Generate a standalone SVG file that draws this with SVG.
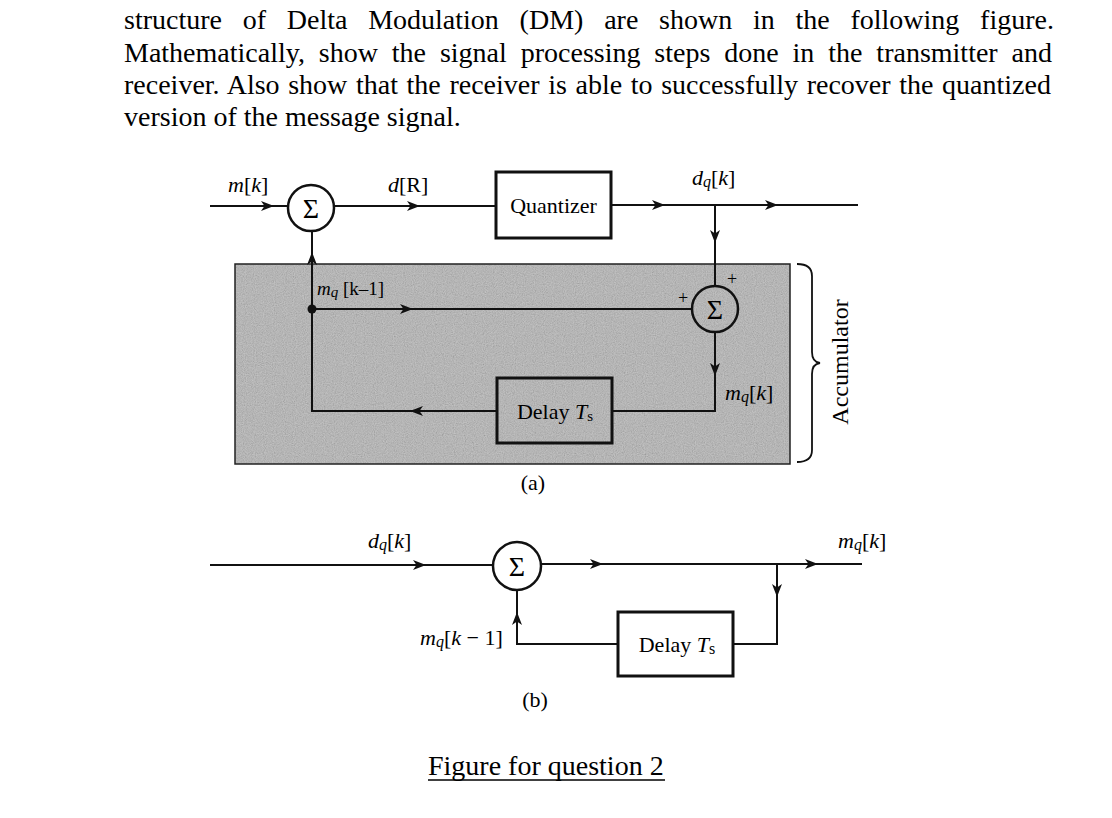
<svg xmlns="http://www.w3.org/2000/svg" xmlns:xlink="http://www.w3.org/1999/xlink" width="1112" height="818" viewBox="0 0 1112 818">
<style>
  .t{font-family:"Liberation Serif","Times New Roman",serif;fill:#000}
  .body{font-size:28px}
  .lbl{font-size:22px}
  .sig{font-size:28px}
  .i{font-style:italic}
  .ln{stroke:#111;stroke-width:2;fill:none}
  .box{fill:#fff;stroke:#111;stroke-width:3}
  .boxg{fill:none;stroke:#111;stroke-width:3}
  .sum{fill:#fff;stroke:#111;stroke-width:2.5}
  .sumg{fill:none;stroke:#111;stroke-width:2.5}
</style>
<defs>
  <path id="ah" d="M0,0 L-13,-5 L-9.5,0 L-13,5 Z" fill="#111"/>
  <filter id="grain" x="0" y="0" width="1" height="1">
    <feTurbulence type="fractalNoise" baseFrequency="0.9" numOctaves="2" seed="7"/>
    <feColorMatrix type="saturate" values="0"/>
    <feComponentTransfer><feFuncA type="table" tableValues="1 1"/></feComponentTransfer>
  </filter>
</defs>
<rect width="1112" height="818" fill="#fff"/>

<g id="question-text" class="t body">
  <text x="124" y="28.5" word-spacing="13.76">structure of Delta Modulation (DM) are shown in the following figure.</text>
  <text x="124" y="61.5" word-spacing="6.9">Mathematically, show the signal processing steps done in the transmitter and</text>
  <text x="124" y="94" word-spacing="1.63">receiver. Also show that the receiver is able to successfully recover the quantized</text>
  <text x="124" y="126">version of the message signal.</text>
</g>

<g id="accumulator">
  <rect x="235" y="264" width="555" height="200" fill="#b2b2b2"/>
  <rect x="235" y="264" width="555" height="200" filter="url(#grain)" opacity="0.35"/>
  <rect x="235" y="264" width="555" height="200" fill="none" stroke="#222" stroke-width="1.5"/>
  <path d="M797,264 Q812,264 812,276 L812,352 Q812,362 820,363 Q812,364 812,374 L812,450 Q812,462 797,462" fill="none" stroke="#111" stroke-width="1.8"/>
  <text class="t" font-size="24" transform="translate(848,362) rotate(-90)" text-anchor="middle">Accumulator</text>
</g>

<g id="connectors">
  <!-- (a) -->
  <path class="ln" d="M210,206 H288"/>
  <path class="ln" d="M334,206 H496"/>
  <path class="ln" d="M611,205 H858"/>
  <path class="ln" d="M715,205 V285"/>
  <path class="ln" d="M312,309 H692"/>
  <path class="ln" d="M715,332 V411 H612"/>
  <path class="ln" d="M497,411 H312 V231"/>
  <circle cx="312" cy="309" r="4.5" fill="#111"/>
  <use xlink:href="#ah" transform="translate(274,206)"/>
  <use xlink:href="#ah" transform="translate(420,206)"/>
  <use xlink:href="#ah" transform="translate(665,205)"/>
  <use xlink:href="#ah" transform="translate(778,205)"/>
  <use xlink:href="#ah" transform="translate(715,243) rotate(90)"/>
  <use xlink:href="#ah" transform="translate(413,309)"/>
  <use xlink:href="#ah" transform="translate(715,376) rotate(90)"/>
  <use xlink:href="#ah" transform="translate(410,411) rotate(180)"/>
  <use xlink:href="#ah" transform="translate(312,252) rotate(-90)"/>
  <!-- (b) -->
  <path class="ln" d="M210,565 H493"/>
  <path class="ln" d="M541,564 H862"/>
  <path class="ln" d="M777,564 V644 H733"/>
  <path class="ln" d="M618,644 H517 V590"/>
  <use xlink:href="#ah" transform="translate(426,565)"/>
  <use xlink:href="#ah" transform="translate(603,564)"/>
  <use xlink:href="#ah" transform="translate(818,564)"/>
  <use xlink:href="#ah" transform="translate(777,597) rotate(90)"/>
  <use xlink:href="#ah" transform="translate(517,612) rotate(-90)"/>
</g>

<g id="sum1">
  <circle class="sum" cx="311" cy="208" r="23"/>
  <text class="t sig" x="311" y="217.5" text-anchor="middle">Σ</text>
</g>
<g id="quantizer">
  <rect class="box" x="496" y="172" width="115" height="66"/>
  <text class="t lbl" x="553.5" y="213" text-anchor="middle" font-size="23">Quantizer</text>
</g>
<g id="sum2">
  <circle class="sumg" cx="715" cy="309" r="23"/>
  <text class="t sig" x="715" y="318.5" text-anchor="middle">Σ</text>
  <text class="t" x="732" y="285" font-size="18" text-anchor="middle">+</text>
  <text class="t" x="683" y="304" font-size="18" text-anchor="middle">+</text>
</g>
<g id="delay-a">
  <rect class="boxg" x="497" y="378" width="115" height="65"/>
  <text class="t lbl" x="555" y="419" text-anchor="middle">Delay <tspan class="i">T</tspan><tspan font-size="15" dy="2">s</tspan></text>
</g>

<g id="labels-a" class="t lbl">
  <text x="228" y="192"><tspan class="i">m</tspan>[<tspan class="i">k</tspan>]</text>
  <text x="388" y="192"><tspan class="i">d</tspan>[R]</text>
  <text x="692" y="185"><tspan class="i">d</tspan><tspan class="i" font-size="16" dy="2">q</tspan><tspan dy="-2">[</tspan><tspan class="i">k</tspan>]</text>
  <text x="317" y="295" font-size="19"><tspan class="i">m</tspan><tspan class="i" font-size="15" dy="2">q</tspan><tspan dy="-2"> [k–1]</tspan></text>
  <text x="725" y="400"><tspan class="i">m</tspan><tspan class="i" font-size="16" dy="2">q</tspan><tspan dy="-2">[</tspan><tspan class="i">k</tspan>]</text>
  <text x="533" y="490" text-anchor="middle">(a)</text>
</g>

<g id="sum3">
  <circle class="sum" cx="517" cy="566" r="24"/>
  <text class="t sig" x="517" y="575.5" text-anchor="middle">Σ</text>
</g>
<g id="delay-b">
  <rect class="box" x="618" y="612" width="115" height="64"/>
  <text class="t lbl" x="677" y="652" text-anchor="middle">Delay <tspan class="i">T</tspan><tspan font-size="16" dy="2">s</tspan></text>
</g>
<g id="labels-b" class="t lbl">
  <text x="368" y="548"><tspan class="i">d</tspan><tspan class="i" font-size="16" dy="2">q</tspan><tspan dy="-2">[</tspan><tspan class="i">k</tspan>]</text>
  <text x="838" y="548"><tspan class="i">m</tspan><tspan class="i" font-size="16" dy="2">q</tspan><tspan dy="-2">[</tspan><tspan class="i">k</tspan>]</text>
  <text x="420" y="645"><tspan class="i">m</tspan><tspan class="i" font-size="16" dy="2">q</tspan><tspan dy="-2">[</tspan><tspan class="i">k</tspan> − 1]</text>
  <text x="535" y="707" text-anchor="middle">(b)</text>
</g>

<g id="caption" class="t body">
  <text x="428" y="775">Figure for question 2</text>
  <line x1="428" y1="780" x2="665" y2="780" stroke="#000" stroke-width="1.5"/>
</g>
</svg>
